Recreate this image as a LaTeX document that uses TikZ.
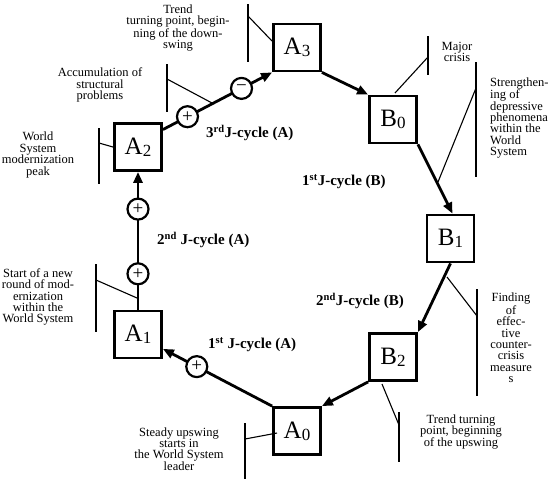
\documentclass[tikz,border=0pt]{standalone}
\usepackage{fontspec}
\setmainfont{Liberation Serif}
\usetikzlibrary{arrows.meta}
\newcommand\boxlab[2]{#1\raisebox{-2pt}{\fontsize{17}{17}\selectfont #2}}
\begin{document}
\begin{tikzpicture}[x=1pt,y=-1pt,
 box/.style={draw,line width=2.8pt,minimum size=47pt,inner sep=0pt,font=\fontsize{25}{25}\selectfont},
 conn/.style={line width=2.8pt,-{Triangle[length=11pt,width=9pt]}},
 sign/.style={circle,draw,fill=white,line width=2.2pt,minimum size=21pt,inner sep=0pt,font=\fontsize{19}{19}\selectfont},
 note/.style={align=center,inner sep=0pt,font=\fontsize{12.5}{11.4}\selectfont},
 cyc/.style={inner sep=0pt,anchor=west,font=\fontsize{15}{15}\selectfont\bfseries},
 thin/.style={line width=1.1pt}]
\useasboundingbox (0,0) rectangle (553,480);
% boxes
\node[box] (A3) at (297,47.5) {\boxlab{A}{3}};
\node[box] (B0) at (393,119.5) {\boxlab{B}{0}};
\node[box] (B1) at (450.5,238.5) {\boxlab{B}{1}};
\node[box] (B2) at (393,357) {\boxlab{B}{2}};
\node[box] (A0) at (297,431) {\boxlab{A}{0}};
\node[box] (A1) at (138,334.5) {\boxlab{A}{1}};
\node[box] (A2) at (138,147) {\boxlab{A}{2}};
% connectors
\draw[conn] (A2.35) -- node[sign,pos=.225](s1){+} node[sign,pos=.72](s2){−} (A3.south west);
\draw[conn] (A3.south east) -- (B0.north west);
\draw[conn] (B0.south east) -- ([xshift=2pt]B1.north);
\draw[conn] (B1.south) -- (B2.north east);
\draw[conn] (B2.south west) -- (A0.north east);
\draw[conn] (A0.north west) -- node[sign,pos=.69](s5){+} (A1.-30);
\draw[conn] (A1.north) -- node[sign,pos=.26](s3){+} node[sign,pos=.73](s4){+} (A2.south);
% notes
\node[note] (t1) at (178,28) {Trend\\turning point, begin-\\ning of the down-\\swing};
\node[note] (t2) at (100,85) {Accumulation of\\structural\\problems};
\node[note] (t3) at (38,155) {World\\System\\modernization\\peak};
\node[note] (t4) at (38,297) {Start of a new\\round of mod-\\ernization\\within the\\World System};
\node[note] (t5) at (179,449) {Steady upswing\\starts in\\the World System\\leader};
\node[note] (t6) at (461,432) {Trend turning\\point, beginning\\of the upswing};
\node[note] (t7) at (511,338) {Finding\\of\\effec-\\tive\\counter-\\crisis\\measure\\s};
\node[note] (t8) at (457,52) {Major\\crisis};
\node[note,align=left,anchor=west] (t9) at (490,118) {Strengthen-\\ing of\\depressive\\phenomena\\within the\\World\\System};
% cycle labels
\node[cyc] (c1) at (206,133) {3\textsuperscript{rd}J-cycle (A)};
\node[cyc] (c2) at (302,182) {1\textsuperscript{st}J-cycle (B)};
\node[cyc] (c3) at (157,240) {2\textsuperscript{nd} J-cycle (A)};
\node[cyc] (c4) at (316,301) {2\textsuperscript{nd}J-cycle (B)};
\node[cyc] (c5) at (208,345) {1\textsuperscript{st} J-cycle (A)};
% annotation leaders
\coordinate (p1a) at (248,4);   \coordinate (p1b) at (248,62);  \coordinate (p1c) at (248,16);  \coordinate (p1d) at (272,41);
\coordinate (p2a) at (167,64);  \coordinate (p2b) at (167,112); \coordinate (p2c) at (167,79);  \coordinate (p2d) at (212,103);
\coordinate (p3a) at (99,128);  \coordinate (p3b) at (99,184);  \coordinate (p3c) at (99,143);  \coordinate (p3d) at (113,147);
\coordinate (p4a) at (96,264);  \coordinate (p4b) at (96,332);  \coordinate (p4c) at (96,280);  \coordinate (p4d) at (137,298);
\coordinate (p5a) at (245,423); \coordinate (p5b) at (245,479); \coordinate (p5c) at (245,439); \coordinate (p5d) at (277,433);
\coordinate (p6a) at (399,412); \coordinate (p6b) at (399,462); \coordinate (p6c) at (399,425); \coordinate (p6d) at (382,384);
\coordinate (p7a) at (477,289); \coordinate (p7b) at (477,396); \coordinate (p7c) at (477,316); \coordinate (p7d) at (447,277);
\coordinate (p8a) at (428,36);  \coordinate (p8b) at (428,75);  \coordinate (p8c) at (428,57);  \coordinate (p8d) at (395,93);
\coordinate (p9a) at (476,62);  \coordinate (p9b) at (476,177); \coordinate (p9c) at (476,88);  \coordinate (p9d) at (438,182);
\foreach \i in {1,...,9}{
  \draw[thin] (p\i a) -- (p\i b);
  \draw[thin] (p\i c) -- (p\i d);
}
\end{tikzpicture}
\end{document}
